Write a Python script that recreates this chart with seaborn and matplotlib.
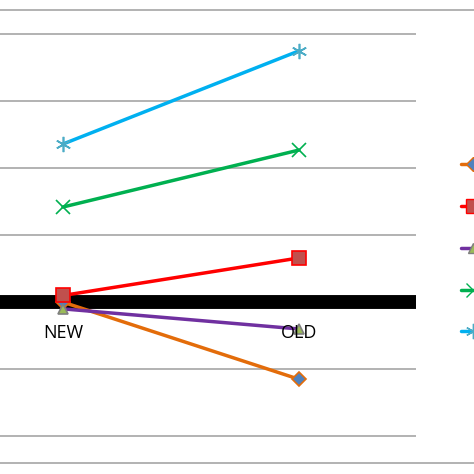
import matplotlib
matplotlib.use("Agg")
import matplotlib.pyplot as plt
from matplotlib.lines import Line2D
import seaborn as sns
import pandas as pd

periods = ["NEW", "OLD"]
series_names = ["Series 1", "Series 2", "Series 3", "Series 4", "Series 5"]
s1_vals = [0.0, -1.15]
s2_vals = [0.1, 0.66]
s3_vals = [-0.1, -0.4]
s4_vals = [1.42, 2.27]
s5_vals = [2.36, 3.75]

colors = ["#E36C0A", "#FF0000", "#7030A0", "#00B050", "#00B0F0"]
markers = ["D", "s", "^", "x", (6, 2, 0)]
mfaces = ["#4F81BD", "#C0504D", "#9BBB59", "#00B050", "#4BACC6"]
medges = ["#E36C0A", "#FF0000", "#7F7F7F", "#00B050", "#4BACC6"]
msizes = [7, 10, 7, 10, 11]

rows = []
for name, vals in zip(series_names, [s1_vals, s2_vals, s3_vals, s4_vals, s5_vals]):
    for i, v in enumerate(vals):
        rows.append({"series": name, "x": i, "value": v})
df = pd.DataFrame(rows)

sns.set_style("white")
fig = plt.figure(figsize=(4.74, 4.74), dpi=100)
ax = fig.add_axes([0, 11 / 474, 416 / 474, 453 / 474])

for y in [-2, -1, 1, 2, 3, 4]:
    ax.axhline(y, color="#A6A6A6", lw=1.2, zorder=0)
ax.plot([-0.3, 1.5], [0, 0], color="black", lw=10, solid_capstyle="round", zorder=1)

handles = []
for k, name in enumerate(series_names):
    sub = df[df.series == name]
    sns.lineplot(data=sub, x="x", y="value", ax=ax, color=colors[k], lw=2.5,
                 marker=markers[k], markersize=msizes[k], markerfacecolor=mfaces[k],
                 markeredgecolor=medges[k], markeredgewidth=1.2, zorder=3 + (k == 1))
    handles.append(Line2D([0], [0], color=colors[k], lw=2.5, marker=markers[k],
                          markersize=msizes[k], markerfacecolor=mfaces[k],
                          markeredgecolor=medges[k]))

for i, p in enumerate(periods):
    ax.text(i, -0.46, p, ha="center", va="center", fontsize=13,
            family="Open Sans", color="black", zorder=5)

ax.set_xlim(-0.267, 1.496)
ax.set_ylim(-2.40, 4.36)
ax.set_xlabel("")
ax.set_ylabel("")
ax.set_xticks([])
ax.set_yticks([])
sns.despine(ax=ax, left=True, bottom=True)

fig.legend(handles, series_names, loc="upper left", bbox_to_anchor=(447 / 474, 1 - 144 / 474),
           frameon=False, handlelength=1.6, labelspacing=1.75, fontsize=11)

for yy in [10, 463]:
    fig.add_artist(Line2D([0, 1], [1 - yy / 474] * 2, color="#A6A6A6", lw=1.2))

fig.savefig("out.png", dpi=100)
